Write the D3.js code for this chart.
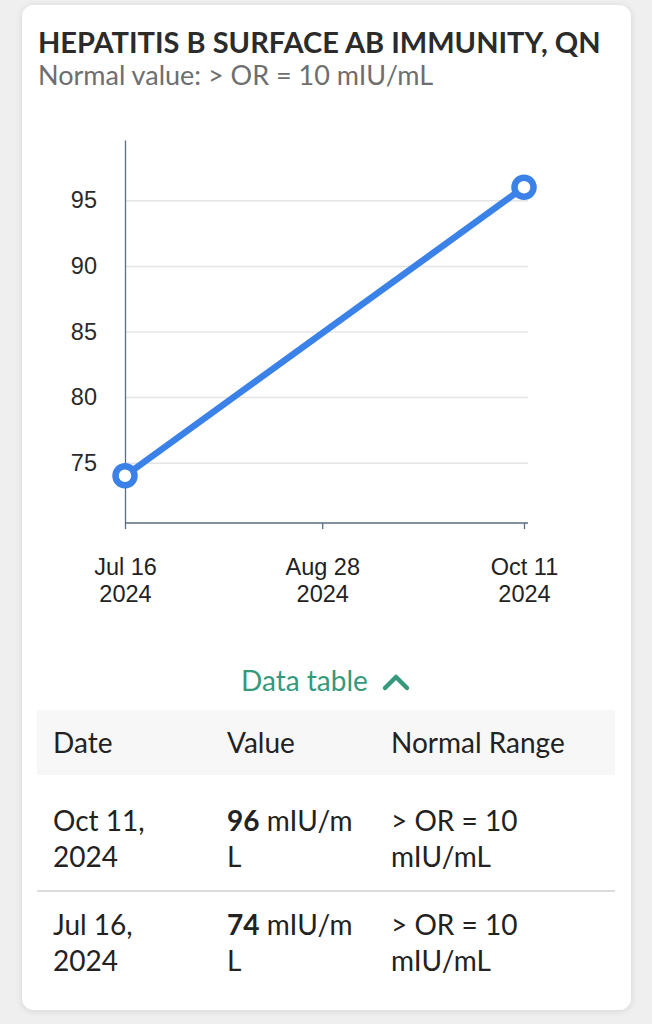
<!DOCTYPE html>
<html>
<head>
<meta charset="utf-8">
<script src="https://cdn.jsdelivr.net/npm/d3@7"></script>
<style>
    html, body { margin: 0; padding: 0; background: #efefef; }
    svg { display: block; }
    .ui { font-family: Lato, "Noto Sans", sans-serif; }
    .tick-text { font-family: "Liberation Sans", Arial, sans-serif; }
</style>
</head>
<body>
<svg id="draw-area" width="652" height="1024"></svg>
<script>
// data
const title = "HEPATITIS B SURFACE AB IMMUNITY, QN";
const unit = "mIU/mL";
const normal_range = "> OR = 10 mIU/mL";
const dates = ["2024-07-16", "2024-10-11"];
const values = [74, 96];
const y_ticks = [75, 80, 85, 90, 95];
const x_ticks = ["2024-07-16", "2024-08-28", "2024-10-11"];
const table_headers = ["Date", "Value", "Normal Range"];

const parse = d3.timeParse("%Y-%m-%d");
const data = dates.map((d, i) => ({ date: parse(d), value: values[i] }));

const green = "#35997b";
const blue = "#3b82e8";
const axis_color = "#5d6d80";

let svg = d3.select("#draw-area");

let defs = svg.append("defs");
let f = defs.append("filter").attr("id", "shadow")
    .attr("x", "-10%").attr("y", "-10%").attr("width", "120%").attr("height", "120%");
f.append("feDropShadow").attr("dx", 0).attr("dy", 1).attr("stdDeviation", 3)
    .attr("flood-color", "#000").attr("flood-opacity", 0.12);

// card
svg.append("rect")
    .attr("x", 22).attr("y", 5)
    .attr("width", 609).attr("height", 1005)
    .attr("rx", 12)
    .style("fill", "#fff")
    .attr("filter", "url(#shadow)");

svg.append("text")
    .attr("class", "ui")
    .attr("x", 38).attr("y", 53)
    .style("font-size", "29px").style("font-weight", 700)
    .style("fill", "#2b2b2b")
    .text(title);

svg.append("text")
    .attr("class", "ui")
    .attr("x", 38).attr("y", 85)
    .style("font-size", "27px")
    .style("fill", "#6e6e6e")
    .text(`Normal value: ${normal_range}`);

// scales
let xScale = d3.scaleTime()
    .domain(d3.extent(data, d => d.date))
    .range([125, 524]);

let yScale = d3.scaleLinear()
    .domain([70.4, 99.6])
    .range([523, 140]);

let chart = svg.append("g").attr("class", "chart");

// gridlines
chart.append("g")
    .attr("class", "grid")
    .attr("transform", `translate(${xScale.range()[0]}, 0)`)
    .call(d3.axisLeft(yScale).tickValues(y_ticks).tickSize(-(xScale.range()[1] + 4 - xScale.range()[0])).tickFormat(""))
    .call(g => g.select(".domain").remove())
    .call(g => g.selectAll("line").style("stroke", "#e4e4e4").style("stroke-width", 1.5));

// y axis
chart.append("g")
    .attr("class", "y-axis")
    .attr("transform", `translate(${xScale.range()[0]}, 0)`)
    .call(d3.axisLeft(yScale).tickValues(y_ticks).tickSize(0).tickPadding(28).tickSizeOuter(0))
    .call(g => g.select(".domain").style("stroke", axis_color).style("stroke-width", 1.3))
    .call(g => g.selectAll("text")
        .attr("class", "tick-text")
        .style("font-size", "23.5px")
        .style("fill", "#2a2a2a"));

// x axis
let xAxis = chart.append("g")
    .attr("class", "x-axis")
    .attr("transform", `translate(0, ${yScale.range()[0]})`)
    .call(d3.axisBottom(xScale).tickValues(x_ticks.map(parse)).tickSize(6).tickSizeOuter(0).tickFormat(""));
xAxis.select(".domain").remove();
xAxis.append("line")
    .attr("x1", xScale.range()[0]).attr("x2", xScale.range()[1] + 4)
    .style("stroke", axis_color).style("stroke-width", 1.3);
xAxis.selectAll(".tick line").style("stroke", axis_color).style("stroke-width", 1.3);
xAxis.selectAll(".tick").each(function (d) {
    let t = d3.select(this).append("text")
        .attr("class", "tick-text")
        .attr("text-anchor", "middle")
        .style("font-size", "23.5px")
        .style("fill", "#222");
    t.append("tspan").attr("x", 0).attr("y", 52).text(d3.timeFormat("%b %-d")(d));
    t.append("tspan").attr("x", 0).attr("y", 79).text(d3.timeFormat("%Y")(d));
});

// line + points
let line = d3.line()
    .x(d => xScale(d.date))
    .y(d => yScale(d.value));

chart.append("path")
    .datum(data)
    .attr("d", line)
    .style("fill", "none")
    .style("stroke", blue)
    .style("stroke-width", 6.5)
    .style("stroke-linecap", "round");

chart.selectAll("circle.point")
    .data(data)
    .enter()
    .append("circle")
    .attr("class", "point")
    .attr("cx", d => xScale(d.date))
    .attr("cy", d => yScale(d.value))
    .attr("r", 9.5)
    .style("fill", "#fff")
    .style("stroke", blue)
    .style("stroke-width", 6.5);

// data table toggle
let toggle = svg.append("g").attr("class", "toggle");
toggle.append("text")
    .attr("class", "ui")
    .attr("x", 241).attr("y", 691)
    .style("font-size", "28px")
    .style("fill", green)
    .text("Data table");
toggle.append("path")
    .attr("d", "M385,688 L396,677 L407,688")
    .style("fill", "none")
    .style("stroke", green)
    .style("stroke-width", 4.5)
    .style("stroke-linecap", "round")
    .style("stroke-linejoin", "round");

// table
const col_x = [53, 227, 391];
const col_w = [125, 132, 170];
const font_size = 28;

svg.append("rect")
    .attr("x", 37).attr("y", 710)
    .attr("width", 578).attr("height", 65)
    .style("fill", "#f7f7f7");

svg.selectAll("text.th")
    .data(table_headers)
    .enter()
    .append("text")
    .attr("class", "th ui")
    .attr("x", (d, i) => col_x[i])
    .attr("y", 753)
    .style("font-size", `${font_size}px`)
    .style("fill", "#222")
    .text(d => d);

// measure helper for wrapping
let measurer = svg.append("text").attr("class", "ui").style("font-size", `${font_size}px`).style("visibility", "hidden");
function textWidth(s, bold) {
    measurer.style("font-weight", bold ? 700 : 400).text(s);
    return measurer.node().getComputedTextLength();
}

// wrap into lines; words longer than width are split by character
function wrap(s, width) {
    let lines = [];
    let cur = "";
    s.split(" ").forEach(w => {
        let test = cur ? cur + " " + w : w;
        if (textWidth(test) <= width) { cur = test; return; }
        if (cur && textWidth(w) <= width) { lines.push(cur); cur = w; return; }
        if (cur) { lines.push(cur); cur = ""; }
        // break by char
        let piece = "";
        w.split("").forEach(c => {
            if (textWidth(piece + c) > width && piece.trim()) { lines.push(piece); piece = c; }
            else piece += c;
        });
        cur = piece;
    });
    if (cur) lines.push(cur);
    return lines;
}

let rows = data.slice().sort((a, b) => b.date - a.date);
const row_top = 775;
const row_h = 116;
const line_h = 36;

rows.forEach((r, i) => {
    let top = row_top + i * row_h;
    let base = top + 56 - (i * 12);
    let cells = [
        wrap(d3.timeFormat("%b %d, %Y")(r.date), col_w[0]),
        wrap(`${r.value}\u00a0${unit}`, col_w[1]),
        wrap(normal_range, col_w[2])
    ];
    cells.forEach((lines, c) => {
        let t = svg.append("text")
            .attr("class", "ui")
            .attr("y", base)
            .style("font-size", `${font_size}px`)
            .style("fill", "#222");
        lines.forEach((ln, k) => {
            let tsp = t.append("tspan").attr("x", col_x[c]).attr("y", base + k * line_h);
            if (c === 1 && k === 0) {
                let num = String(r.value);
                tsp.append("tspan").style("font-weight", 700).text(num);
                tsp.append("tspan").text(ln.slice(num.length));
            } else {
                tsp.text(ln);
            }
        });
    });
    if (i < rows.length - 1) {
        svg.append("line")
            .attr("x1", 37).attr("x2", 615)
            .attr("y1", top + row_h).attr("y2", top + row_h)
            .style("stroke", "#dcdcdc").style("stroke-width", 2);
    }
});
measurer.remove();
</script>
</body>
</html>
